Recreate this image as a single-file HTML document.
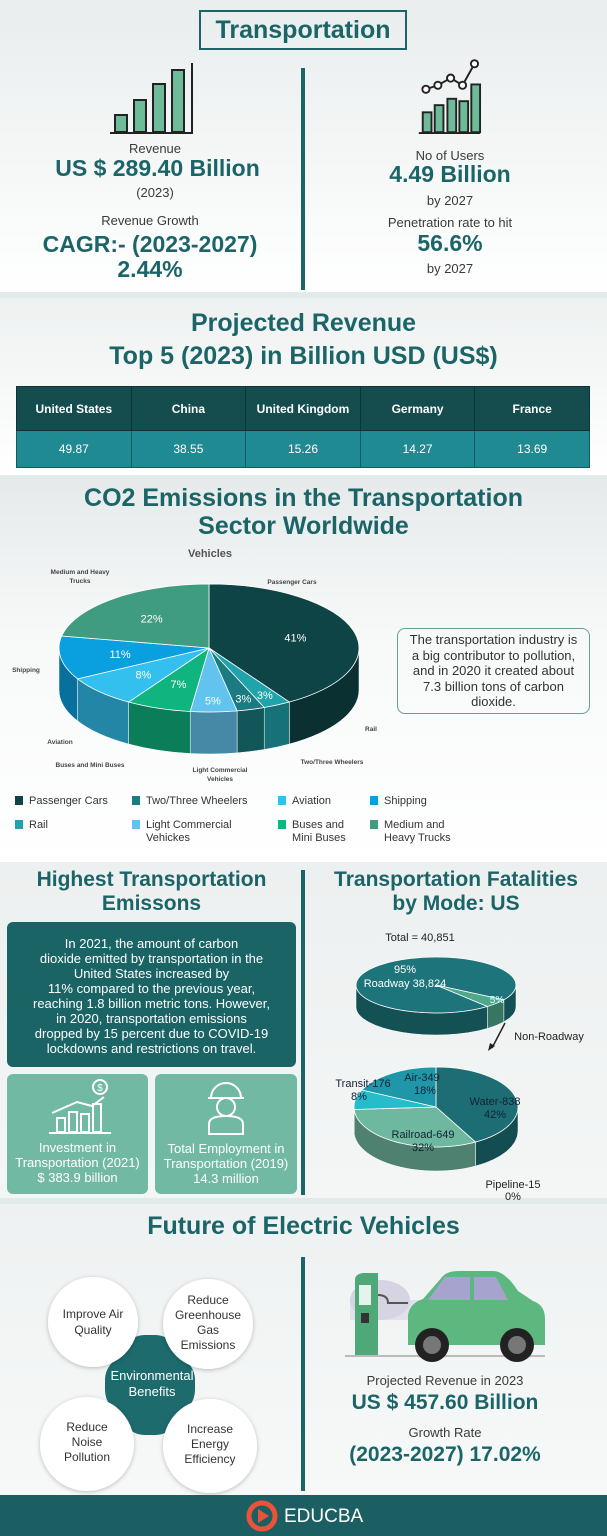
<!DOCTYPE html>
<html><head><meta charset="utf-8">
<style>
*{margin:0;padding:0;box-sizing:border-box}
body{width:607px;height:1536px;position:relative;overflow:hidden;font-family:"Liberation Sans",sans-serif;background:#fff}
.a{position:absolute}
.c{text-align:center}
.t{color:#1b6467;font-weight:bold}
.g{color:#3a3a3a}
</style></head><body>
<div class="a" style="left:0;top:0;width:607px;height:292px;background:linear-gradient(#e9eded,#f6f8f8 60%,#fff)"></div>
<div class="a" style="left:0;top:292px;width:607px;height:6px;background:#e3ebea"></div>
<div class="a" style="left:0;top:298px;width:607px;height:177px;background:linear-gradient(#eef1f1,#fff)"></div>
<div class="a" style="left:0;top:475px;width:607px;height:5px;background:#e3ebea"></div>
<div class="a" style="left:0;top:480px;width:607px;height:382px;background:linear-gradient(#e6eaea,#f7f9f9 40%,#fff)"></div>
<div class="a" style="left:0;top:862px;width:607px;height:340px;background:linear-gradient(#edf0f0,#f4f6f6)"></div>
<div class="a" style="left:0;top:1198px;width:607px;height:6px;background:#e3ebea"></div>
<div class="a" style="left:0;top:1204px;width:607px;height:291px;background:linear-gradient(#eef1f1,#f7f9f9)"></div>

<div class="a c t" style="left:199px;top:10px;width:208px;height:40px;border:2px solid #1b6467;font-size:25px;line-height:36px">Transportation</div>
<div class="a" style="left:301px;top:68px;width:4px;height:222px;background:#1b6467"></div>
<svg class="a" style="left:108px;top:60px" width="90" height="97">
<g fill="#6dbb98" stroke="#222" stroke-width="2"><rect x="7" y="55" width="12" height="17"/><rect x="26" y="40" width="12" height="32"/><rect x="45" y="24" width="12" height="48"/><rect x="64" y="10" width="12" height="62"/></g>
<line x1="2" y1="73" x2="85" y2="73" stroke="#222" stroke-width="2"/><line x1="84" y1="3" x2="84" y2="73" stroke="#222" stroke-width="2"/></svg>
<div class="a c g" style="left:40px;top:141px;width:230px;font-size:13px">Revenue</div>
<div class="a c t" style="left:20px;top:155px;width:275px;font-size:23px">US $ 289.40 Billion</div>
<div class="a c g" style="left:40px;top:185px;width:230px;font-size:13px">(2023)</div>
<div class="a c g" style="left:30px;top:213px;width:240px;font-size:13px">Revenue Growth</div>
<div class="a c t" style="left:10px;top:231px;width:280px;font-size:23px">CAGR:- (2023-2027)</div>
<div class="a c t" style="left:40px;top:256px;width:220px;font-size:23px">2.44%</div>
<svg class="a" style="left:408px;top:55px" width="90" height="82" viewBox="0 0 90 103">
<g fill="#6dbb98" stroke="#222" stroke-width="2.4"><rect x="7" y="72" width="11" height="25"/><rect x="22" y="63" width="11" height="34"/><rect x="38" y="55" width="11" height="42"/><rect x="53" y="58" width="11" height="39"/><rect x="68" y="37" width="11" height="60"/></g>
<polyline points="11,43 26,38 42,29 57,38 72,11" fill="none" stroke="#222" stroke-width="2.4"/>
<g fill="#fff" stroke="#222" stroke-width="2.4"><circle cx="11" cy="43" r="4.5"/><circle cx="26" cy="38" r="4.5"/><circle cx="42" cy="29" r="4.5"/><circle cx="57" cy="38" r="4.5"/><circle cx="72" cy="11" r="4.5"/></g>
<line x1="2" y1="98" x2="79" y2="98" stroke="#222" stroke-width="2.4"/></svg>
<div class="a c g" style="left:330px;top:148px;width:240px;font-size:13px">No of Users</div>
<div class="a c t" style="left:330px;top:161px;width:240px;font-size:23px">4.49 Billion</div>
<div class="a c g" style="left:330px;top:193px;width:240px;font-size:13px">by 2027</div>
<div class="a c g" style="left:330px;top:215px;width:240px;font-size:13px">Penetration rate to hit</div>
<div class="a c t" style="left:330px;top:230px;width:240px;font-size:23px">56.6%</div>
<div class="a c g" style="left:330px;top:261px;width:240px;font-size:13px">by 2027</div>

<div class="a c t" style="left:0;top:307px;width:607px;font-size:25px;line-height:33px">Projected Revenue<br>Top 5 (2023) in Billion USD (US$)</div>
<table class="a" style="left:16px;top:386px;width:574px;table-layout:fixed;border-collapse:collapse;font-size:12px;color:#fff;text-align:center">
<tr style="background:#154d4f;height:44px;font-weight:bold"><td style="border:1px solid #0d3435">United States</td><td style="border:1px solid #0d3435">China</td><td style="border:1px solid #0d3435">United Kingdom</td><td style="border:1px solid #0d3435">Germany</td><td style="border:1px solid #0d3435">France</td></tr>
<tr style="background:#1f8a92;height:37px"><td style="border:1px solid #135a5e">49.87</td><td style="border:1px solid #135a5e">38.55</td><td style="border:1px solid #135a5e">15.26</td><td style="border:1px solid #135a5e">14.27</td><td style="border:1px solid #135a5e">13.69</td></tr>
</table>

<div class="a c t" style="left:0;top:484px;width:607px;font-size:25px;line-height:28px">CO2 Emissions in the Transportation<br>Sector Worldwide</div>
<svg class="a" id="co2" style="left:0;top:540px" width="400" height="245"></svg>
<div class="a c" style="left:397px;top:628px;width:193px;height:86px;border:1.5px solid #6a9c9a;border-radius:8px;font-size:13px;line-height:15.5px;color:#333;padding-top:3px">The transportation industry is<br>a big contributor to pollution,<br>and in 2020 it created about<br>7.3 billion tons of carbon<br>dioxide.</div>
<div id="legend"></div>

<div class="a c t" style="left:0;top:868px;width:303px;font-size:21px;line-height:24px">Highest Transportation<br>Emissons</div>
<div class="a" style="left:301px;top:870px;width:4px;height:325px;background:#1b6467"></div>
<div class="a c" style="left:7px;top:922px;width:289px;height:145px;background:#1a6466;border-radius:6px;color:#fff;font-size:13px;line-height:15px;padding-top:14px">In 2021, the amount of carbon<br>dioxide emitted by transportation in the<br>United States increased by<br>11% compared to the previous year,<br>reaching 1.8 billion metric tons. However,<br>in 2020, transportation emissions<br>dropped by 15 percent due to COVID-19<br>lockdowns and restrictions on travel.</div>
<div class="a c" style="left:7px;top:1074px;width:141px;height:120px;background:#72b9a4;border-radius:6px;color:#fff;font-size:13px;line-height:15px">
<svg width="141" height="60" style="display:block;margin-top:2px"><g fill="none" stroke="#fff" stroke-width="2"><circle cx="93" cy="11" r="7"/><polyline points="45,37 70,26 85,30 97,21"/><rect x="50" y="42" width="8" height="14"/><rect x="62" y="36" width="8" height="20"/><rect x="74" y="38" width="8" height="18"/><rect x="86" y="28" width="8" height="28"/><line x1="42" y1="57" x2="104" y2="57"/></g><text x="93" y="15" font-size="10" fill="#fff" text-anchor="middle" font-family="Liberation Sans">$</text></svg>
<div style="margin-top:4px">Investment in<br>Transportation (2021)<br>$ 383.9 billion</div></div>
<div class="a c" style="left:155px;top:1074px;width:142px;height:120px;background:#72b9a4;border-radius:6px;color:#fff;font-size:13px;line-height:15px">
<svg width="142" height="60" style="display:block;margin-top:2px"><g fill="none" stroke="#fff" stroke-width="2"><path d="M56 22 a15 15 0 0 1 30 0 z"/><line x1="53" y1="22" x2="89" y2="22"/><circle cx="71" cy="31" r="9"/><path d="M54 58 v-10 q0-8 17-8 q17 0 17 8 v10 z"/></g></svg>
<div style="margin-top:5px">Total Employment in<br>Transportation (2019)<br>14.3 million</div></div>

<div class="a c t" style="left:305px;top:868px;width:302px;font-size:21px;line-height:24px">Transportation Fatalities<br>by Mode: US</div>
<div class="a c" style="left:340px;top:932px;width:160px;font-size:11px;color:#222">Total = 40,851</div>
<svg class="a" id="fat" style="left:305px;top:945px" width="302" height="255"></svg>

<div class="a c t" style="left:0;top:1212px;width:607px;font-size:25px">Future of Electric Vehicles</div>
<div class="a" style="left:301px;top:1257px;width:4px;height:234px;background:#1b6467"></div>
<svg class="a" style="left:0;top:1260px" width="300" height="235">
<defs><filter id="sh"><feDropShadow dx="0" dy="1" stdDeviation="2" flood-opacity="0.25"/></filter></defs>
<g fill="#1d6b6d"><circle cx="150" cy="125" r="42"/><rect x="105" y="95" width="90" height="60" rx="25"/><rect x="120" y="75" width="60" height="100" rx="25"/></g>
<g fill="#fff" filter="url(#sh)"><circle cx="93" cy="62" r="45"/><circle cx="208" cy="64" r="45"/><circle cx="87" cy="184" r="47"/><circle cx="210" cy="186" r="47"/></g>
<g fill="#333" font-size="12" text-anchor="middle" font-family="Liberation Sans">
<text x="93" y="58">Improve Air</text><text x="93" y="74">Quality</text>
<text x="208" y="44">Reduce</text><text x="208" y="59">Greenhouse</text><text x="208" y="74">Gas</text><text x="208" y="89">Emissions</text>
<text x="87" y="171">Reduce</text><text x="87" y="186">Noise</text><text x="87" y="201">Pollution</text>
<text x="210" y="173">Increase</text><text x="210" y="188">Energy</text><text x="210" y="203">Efficiency</text></g>
<g fill="#fff" font-size="13" text-anchor="middle" font-family="Liberation Sans"><text x="152" y="120">Environmental</text><text x="152" y="136">Benefits</text></g>
</svg>
<svg class="a" style="left:320px;top:1255px" width="240" height="110">
<ellipse cx="60" cy="45" rx="30" ry="20" fill="#d6d3e3"/><rect x="30" y="45" width="95" height="20" fill="#d6d3e3" opacity=".6"/>
<line x1="25" y1="101" x2="225" y2="101" stroke="#bbb" stroke-width="2"/>
<path d="M35 100 V25 q0-6 8-7 h15 v82 z" fill="#4fa878"/><rect x="39" y="30" width="12" height="20" fill="#e6f3ea"/><rect x="41" y="58" width="8" height="10" fill="#333"/>
<path d="M58 40 q10 0 10 8 h20" fill="none" stroke="#555" stroke-width="2"/>
<path d="M88 90 V60 q2-12 15-16 l20-23 q5-5 15-5 h35 q12 0 25 20 l15 10 q12 4 12 18 v26 z" fill="#5cb87f"/>
<path d="M125 22 h25 v23 h-42 z" fill="#a6a4cf"/><path d="M154 22 h22 l12 23 h-34 z" fill="#a6a4cf"/>
<g fill="#222"><circle cx="112" cy="90" r="17"/><circle cx="197" cy="90" r="17"/></g><g fill="#777"><circle cx="112" cy="90" r="9"/><circle cx="197" cy="90" r="9"/></g>
</svg>
<div class="a c g" style="left:330px;top:1373px;width:230px;font-size:13px">Projected Revenue in 2023</div>
<div class="a c t" style="left:320px;top:1391px;width:250px;font-size:21px">US $ 457.60 Billion</div>
<div class="a c g" style="left:330px;top:1425px;width:230px;font-size:13px">Growth Rate</div>
<div class="a c t" style="left:320px;top:1443px;width:250px;font-size:21px">(2023-2027) 17.02%</div>

<div class="a" style="left:0;top:1495px;width:607px;height:41px;background:#1c5f62"></div>
<svg class="a" style="left:246px;top:1500px" width="32" height="32"><circle cx="16" cy="16" r="13" fill="none" stroke="#e8533a" stroke-width="5"/><path d="M12 9 L23 16 L12 23 z" fill="#e8533a"/></svg>
<div class="a" style="left:284px;top:1506px;font-size:19px;color:#fff">EDUCBA</div>

<script>
const co2Categories=["Passenger Cars","Rail","Two/Three Wheelers","Light Commercial Vehicles","Buses and Mini Buses","Aviation","Shipping","Medium and Heavy Trucks"];
const co2Values=[41,3,3,5,7,8,11,22];
const co2Colors=["#0f4447","#20a3ab","#1b7b80","#63c3ef","#10b47f","#34c0ef","#0aa0df","#3f9c80"];
const legendOrder=["Passenger Cars","Two/Three Wheelers","Aviation","Shipping","Rail","Light Commercial\nVehickes","Buses and\nMini Buses","Medium and\nHeavy Trucks"];
const legendColors=["#0f4447","#1b7b80","#34c0ef","#0aa0df","#20a3ab","#63c3ef","#10b47f","#3f9c80"];
const roadCategories=["Roadway 38,824","Non-Roadway"];
const roadValues=[95,5];
const modeCategories=["Water-838","Pipeline-15","Railroad-649","Transit-176","Air-349"];
const modeValues=[42,0,32,8,18];
const NS="http://www.w3.org/2000/svg";
function el(p,t,a){const e=document.createElementNS(NS,t);for(const k in a)e.setAttribute(k,a[k]);p.appendChild(e);return e;}
function shade(c,f){const n=parseInt(c.slice(1),16);const r=Math.round((n>>16)*f),g=Math.round(((n>>8)&255)*f),b=Math.round((n&255)*f);return `rgb(${r},${g},${b})`;}
function pt(cx,cy,rx,ry,a){const r=a*Math.PI/180;return [cx+rx*Math.sin(r),cy-ry*Math.cos(r)];}
function pie3d(svg,vals,cols,cx,cy,rx,ry,d,start,name){
  const tot=vals.reduce((s,v)=>s+v,0);let a=start;const segs=[];
  vals.forEach((v,i)=>{const b=a+v/tot*360;segs.push([a,b,i]);a=b;});
  segs.forEach(([a,b,i])=>{
    for(let k=-1;k<=1;k++){const s=Math.max(a,90+360*k),e=Math.min(b,270+360*k);if(e<=s)continue;
      const p1=pt(cx,cy,rx,ry,s),p2=pt(cx,cy,rx,ry,e);
      const side=el(svg,'path',{d:`M${p1[0]},${p1[1]} A${rx},${ry} 0 0 1 ${p2[0]},${p2[1]} L${p2[0]},${p2[1]+d} A${rx},${ry} 0 0 0 ${p1[0]},${p1[1]+d} Z`,fill:shade(cols[i],0.7),stroke:'#fff','stroke-width':0.5});
      
      }
  });
  segs.forEach(([a,b,i])=>{
    if(b-a<=0)return;
    const p1=pt(cx,cy,rx,ry,a),p2=pt(cx,cy,rx,ry,b);const lg=(b-a)>180?1:0;
    const top=el(svg,'path',{d:`M${cx},${cy} L${p1[0]},${p1[1]} A${rx},${ry} 0 ${lg} 1 ${p2[0]},${p2[1]} Z`,fill:cols[i],stroke:'#fff','stroke-width':0.8});
    
    
  });
  return segs;
}
function txt(svg,x,y,s,o){const t=el(svg,'text',Object.assign({x:x,y:y,'font-family':'Liberation Sans','text-anchor':'middle','font-size':11},o||{}));t.textContent=s;return t;}
const co2=document.getElementById('co2');
txt(co2,210,17,'Vehicles',{'font-size':11,'font-weight':'bold',fill:'#555'});
const cs=pie3d(co2,co2Values,co2Colors,209,108,150,64,42,0,'co2');
cs.forEach(([a,b,i])=>{const m=(a+b)/2;const f=co2Values[i]<6?0.82:0.6;const p=pt(209,108,150*f,64*f,m);
  const l=txt(co2,p[0],p[1]+4,co2Values[i]+'%',{fill:'#fff','font-size':11});
  
  });
const ann=[[292,44,"Passenger Cars"],[80,34,"Medium and Heavy"],[80,43,"Trucks"],[26,132,"Shipping"],[60,204,"Aviation"],[90,227,"Buses and Mini Buses"],[220,232,"Light Commercial"],[220,241,"Vehicles"],[332,224,"Two/Three Wheelers"],[371,191,"Rail"]];
ann.forEach(([x,y,s])=>{const t=txt(co2,x,y,s,{'font-size':6.5,fill:'#444','font-weight':'bold'});
  
  });
const lg=document.getElementById('legend');
legendOrder.forEach((s,i)=>{const x=[15,132,278,370][i%4],y=i<4?795:819;
  const d=document.createElement('div');d.className='a';d.style.cssText=`left:${x}px;top:${y}px;font-size:11px;line-height:13px;color:#333;padding-left:14px;white-space:pre`;
  d.innerHTML=`<span style="position:absolute;left:0;top:1px;width:8px;height:9px;background:${legendColors[i]}"></span>`+s;
  
  lg.appendChild(d);});
const fat=document.getElementById('fat');
pie3d(fat,roadValues,["#1d747a","#4da88c"],131,40,80,28,22,140,'road');
txt(fat,100,28,'95%',{fill:'#fff','font-size':11});
txt(fat,100,42,'Roadway 38,824',{fill:'#fff','font-size':11});
txt(fat,192,58,'5%',{fill:'#dff','font-size':10});
el(fat,'line',{x1:200,y1:78,x2:187,y2:103,stroke:'#222','stroke-width':1.5});
el(fat,'path',{d:'M183 106 L185 98 L190 101 Z',fill:'#222'});
txt(fat,244,95,'Non-Roadway',{fill:'#222','font-size':11});
pie3d(fat,modeValues,["#1d6e74","#0d3d3f","#6fb8a0","#27bccb","#1f97a8"],131,162,82,40,24,0,'mode');
txt(fat,190,160,'Water-838',{fill:'#123','font-size':11});txt(fat,190,173,'42%',{fill:'#123','font-size':11});
txt(fat,118,193,'Railroad-649',{fill:'#123','font-size':11});txt(fat,118,206,'32%',{fill:'#123','font-size':11});
txt(fat,117,136,'Air-349',{fill:'#123','font-size':11});txt(fat,120,149,'18%',{fill:'#123','font-size':11});
txt(fat,58,142,'Transit-176',{fill:'#123','font-size':11});txt(fat,54,155,'8%',{fill:'#123','font-size':11});
txt(fat,208,243,'Pipeline-15',{fill:'#222','font-size':11});txt(fat,208,255,'0%',{fill:'#222','font-size':11});
</script>
</body></html>
